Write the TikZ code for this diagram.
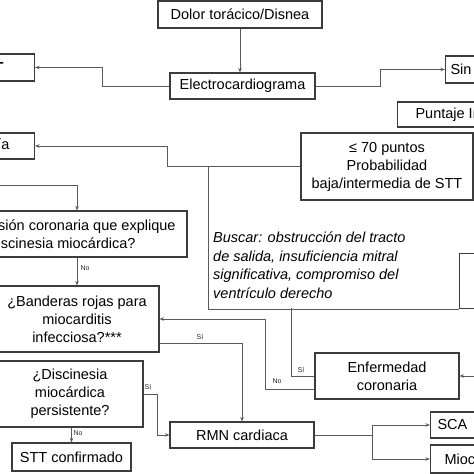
\documentclass[tikz,border=0pt]{standalone}
\usepackage{fontspec}
\setmainfont{Liberation Sans}
\usetikzlibrary{arrows.meta,calc}
\definecolor{boxc}{HTML}{3C3C3C}
\definecolor{linec}{HTML}{5A5A5A}
\begin{document}
\begin{tikzpicture}[x=1pt,y=-1pt,
  box/.style={draw=boxc, line width=1.1pt, rectangle, inner sep=0pt, align=center,
    font=\fontsize{14.5}{18}\selectfont, text=black},
  conn/.style={draw=linec, line width=0.9pt},
  arr/.style={conn, -{Stealth[length=4.5pt,width=3.5pt]}},
  lbl/.style={font=\fontsize{7}{8}\selectfont, inner sep=0pt, text=black!85}]
\useasboundingbox (0,0) rectangle (474,474);
\clip (0,0) rectangle (474,474);
% boxes
\node[box, minimum width=164pt, minimum height=27pt] (dolor) at (240,14.5) {Dolor torácico/Disnea};
\node[box, minimum width=145pt, minimum height=26pt] (ecg) at (242.5,86) {Electrocardiograma};
\node[box, anchor=east, inner xsep=31pt, minimum height=27pt,
  font=\fontsize{14.5}{18}\selectfont\bfseries] (stL) at (35,67.5) {Elevación del ST};
\node[box, anchor=west, inner xsep=5pt, minimum height=27pt] (sin) at (445,69.5) {Sin elevación del ST};
\node[box, anchor=west, inner xsep=18pt, minimum height=25pt] (punt) at (397,114.5) {Puntaje InterTAK};
\node[box, anchor=east, inner xsep=25pt, minimum height=26pt] (ia) at (35,146) {Coronariografía};
\node[box, minimum width=172pt, minimum height=67pt] (p70) at (387,166.5)
  {≤ 70 puntos\\Probabilidad\\baja/intermedia de STT};
\node[box, anchor=north west, minimum width=40pt, minimum height=55pt] (rbox) at (459,253) {};
\node[anchor=north west, align=left, inner sep=0pt, text=black,
  font=\fontsize{14.5}{18.5}\selectfont\itshape] (busc) at (213,232)
  {Buscar: obstrucción del tracto\\de salida, insuficiencia mitral\\significativa, compromiso del\\ventrículo derecho};
\node[box, minimum width=264pt, minimum height=46pt] (les) at (55,234)
  {¿Existe lesión coronaria que explique\\la discinesia miocárdica?};
\node[box, minimum width=164pt, minimum height=66pt] (band) at (77,319)
  {¿Banderas rojas para\\miocarditis\\infecciosa?***};
\node[box, minimum width=146pt, minimum height=66pt] (disc) at (70,394)
  {¿Discinesia\\miocárdica\\persistente?};
\node[box, minimum width=119pt, minimum height=28pt] (conf) at (71.5,457) {STT confirmado};
\node[box, minimum width=144pt, minimum height=26pt] (rmn) at (242,435) {RMN cardiaca};
\node[box, minimum width=144pt, minimum height=46pt] (enf) at (387,376) {Enfermedad\\coronaria};
\node[box, anchor=west, inner xsep=7pt, minimum height=26pt] (sca) at (430,425) {SCA};
\node[box, anchor=west, inner xsep=14pt, minimum height=28pt] (mioc) at (430,459) {Miocarditis};
% junctions and free ends
\coordinate (j1) at (208,166.5);
\coordinate (j2) at (291,308);
\coordinate (fl) at (-10,185);
\coordinate (fr) at (485,376);
% connectors
\draw[arr] (dolor.south) -- (dolor.south |- ecg.north);
\draw[arr] (ecg.west) -- ++(-67,0) |- (stL.east);
\draw[arr] (ecg.east) -- ++(65,0) |- (sin.west);
\draw[arr] (p70.west) -- ++(-133,0) |- (ia.east);
\draw[conn] (j1) -- (j1 |- rbox.south west) -- (rbox.south west);
\draw[conn] (j2) |- (enf.west);
\node[lbl] (lsi1) at (301,370) {Sí};
\draw[arr] ($(enf.west)+(0,13)$) -- ++(-49,0) |- (band.east);
\node[lbl] (lno1) at (277,381) {No};
\draw[arr] ($(band.east)+(0,24)$) -| (rmn.north);
\node[lbl] (lsi2) at (200,337) {Sí};
\draw[arr] (fl) -| ($(les.north)+(22,0)$);
\draw[arr] (band.north |- les.south) -- (band.north);
\node[lbl] (lno2) at (85,268) {No};
\draw[arr] (disc.east) -- ++(14,0) |- (rmn.west);
\node[lbl] (lsi3) at (148,387) {Sí};
\draw[arr] (conf.north |- disc.south) -- (conf.north);
\node[lbl] (lno3) at (78,433) {No};
\draw[conn] (rmn.east) -- ++(58,0) coordinate (j3);
\draw[arr] (j3) |- (sca.west);
\draw[arr] (j3) |- (mioc.west);
\draw[arr] (fr) -- (enf.east);
\end{tikzpicture}
\end{document}
